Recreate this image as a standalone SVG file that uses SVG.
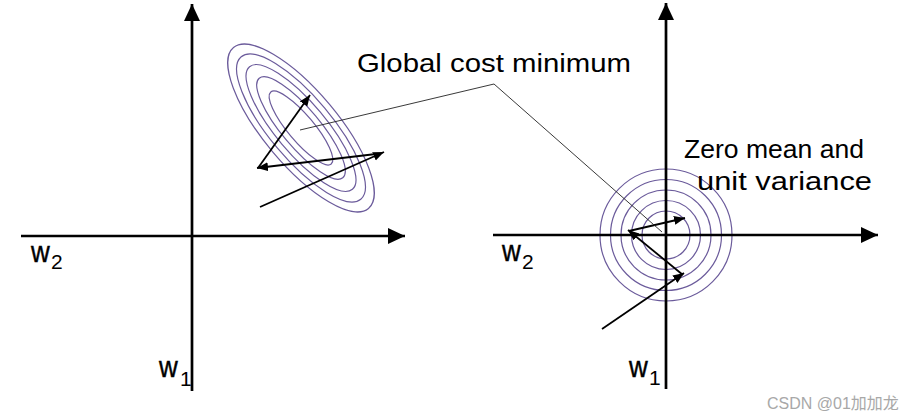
<svg xmlns="http://www.w3.org/2000/svg" width="915" height="420" viewBox="0 0 915 420">
<style>
.ax{stroke:#000;stroke-width:2.7;fill:none}
.vec{stroke:#000;stroke-width:1.8;fill:none}
.cont{stroke:#6b5b9b;stroke-width:1.2;fill:none}
.lead{stroke:#222;stroke-width:0.9;fill:none}
.lbl{font-family:"Liberation Sans",Arial,sans-serif;fill:#000}
.w{stroke:#000;stroke-width:0.4}
.wm{font-family:"Liberation Sans","Noto Sans CJK SC",sans-serif;fill:#a8a8a8;font-size:16px}
</style>
<defs>
<marker id="axh" markerUnits="userSpaceOnUse" markerWidth="18" markerHeight="17" refX="17" refY="8" orient="auto">
<path d="M0,0 L17,8 L0,16 z" fill="#000"/>
</marker>
<marker id="vh" markerUnits="userSpaceOnUse" markerWidth="12" markerHeight="10" refX="11" refY="4.5" orient="auto">
<path d="M0,0 L11,4.5 L0,9 z" fill="#000"/>
</marker>
</defs>
<rect width="915" height="420" fill="#fff"/>

<g id="left-contours" transform="translate(301,128) rotate(50)">
<ellipse class="cont" rx="105" ry="37"/>
<ellipse class="cont" rx="93" ry="31"/>
<ellipse class="cont" rx="80" ry="25"/>
<ellipse class="cont" rx="65" ry="19"/>
<ellipse class="cont" rx="47" ry="13"/>
</g>

<g id="right-contours">
<circle class="cont" cx="666" cy="235" r="24"/>
<circle class="cont" cx="666" cy="235" r="34.5"/>
<circle class="cont" cx="666" cy="235" r="45"/>
<circle class="cont" cx="666" cy="235" r="55.5"/>
<circle class="cont" cx="666" cy="235" r="66"/>
</g>

<g id="left-axes">
<line class="ax" x1="21" y1="236" x2="405" y2="236" marker-end="url(#axh)"/>
<line class="ax" x1="192" y1="391" x2="192" y2="4" marker-end="url(#axh)"/>
</g>
<g id="right-axes">
<line class="ax" x1="493" y1="235" x2="878" y2="235" marker-end="url(#axh)"/>
<line class="ax" x1="666" y1="389" x2="666" y2="3" marker-end="url(#axh)"/>
</g>

<g id="connectors">
<line class="vec" x1="260" y1="207" x2="384" y2="152" marker-end="url(#vh)"/>
<line class="vec" x1="376" y1="154" x2="257" y2="168" marker-end="url(#vh)"/>
<line class="vec" x1="258" y1="168" x2="310" y2="95" marker-end="url(#vh)"/>
<line class="vec" x1="602" y1="329" x2="684" y2="273" marker-end="url(#vh)"/>
<line class="vec" x1="683" y1="275" x2="628" y2="230" marker-end="url(#vh)"/>
<line class="vec" x1="629" y1="231" x2="685" y2="218" marker-end="url(#vh)"/>
<polyline class="lead" points="300,130 494,84 662,232"/>
</g>

<g id="label-global">
<text class="lbl" x="357" y="72" font-size="26.5" textLength="274" lengthAdjust="spacingAndGlyphs">Global cost minimum</text>
</g>
<g id="label-zero">
<text class="lbl" x="684" y="158" font-size="25.5" textLength="180" lengthAdjust="spacingAndGlyphs">Zero mean and</text>
<text class="lbl" x="697" y="190" font-size="25.5" textLength="175" lengthAdjust="spacingAndGlyphs">unit variance</text>
</g>
<g id="label-w-left">
<text class="lbl w" font-size="26" transform="translate(31,262) scale(1,1.15)">w</text>
<text class="lbl" x="51" y="269" font-size="21">2</text>
<text class="lbl w" font-size="26" transform="translate(159,377) scale(1,1.15)">w</text>
<text class="lbl" x="180" y="386" font-size="21">1</text>
</g>
<g id="label-w-right">
<text class="lbl w" font-size="26" transform="translate(502,261) scale(1,1.15)">w</text>
<text class="lbl" x="522" y="269" font-size="21">2</text>
<text class="lbl w" font-size="26" transform="translate(629,377) scale(1,1.15)">w</text>
<text class="lbl" x="649" y="385" font-size="21">1</text>
</g>
<g id="watermark">
<text class="wm" x="767" y="409">CSDN @01加加龙</text>
</g>
</svg>
